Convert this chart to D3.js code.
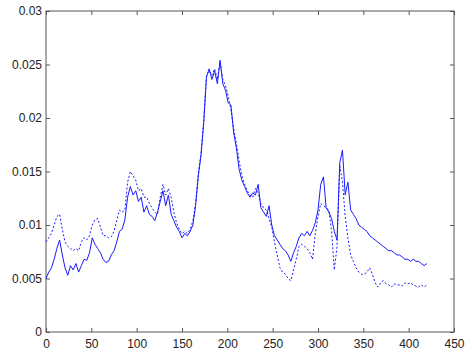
<!DOCTYPE html>
<html>
<head>
<meta charset="utf-8">
<script src="https://cdn.jsdelivr.net/npm/d3@7"></script>
<style>
  body { margin: 0; background: #fff; }
  svg { display: block; }
  .tick text { font-family: "Liberation Sans", Arial, sans-serif; font-size: 12px; fill: #222; }
</style>
</head>
<body>
<svg id="chart" width="474" height="356"></svg>
<script>
const xTicks = [0, 50, 100, 150, 200, 250, 300, 350, 400, 450];
const yTicks = [0, 0.005, 0.01, 0.015, 0.02, 0.025, 0.03];

// sample positions (every 3 units)
const xs = d3.range(0, 421, 3);

// solid line
const solid = [
  0.0050, 0.0056, 0.0060, 0.0068, 0.0078, 0.0086, 0.0072, 0.0060, 0.0053, 0.0062,
  0.0058, 0.0064, 0.0056, 0.0062, 0.0068, 0.0067, 0.0074, 0.0088, 0.0082, 0.0078,
  0.0074, 0.0068, 0.0065, 0.0066, 0.0072, 0.0076, 0.0084, 0.0094, 0.0096, 0.0105,
  0.0126, 0.0136, 0.0128, 0.0132, 0.0122, 0.0126, 0.0112, 0.0118, 0.0110, 0.0108,
  0.0104, 0.0112, 0.0122, 0.0132, 0.0118, 0.0128, 0.0110, 0.0104, 0.0098, 0.0094,
  0.0088, 0.0092, 0.0090, 0.0094, 0.0100, 0.0118, 0.0146, 0.0165, 0.0196, 0.0238,
  0.0246, 0.0236, 0.0244, 0.0232, 0.0254, 0.0232, 0.0226, 0.0214, 0.0212, 0.0186,
  0.0172, 0.0152, 0.0142, 0.0136, 0.0130, 0.0126, 0.0130, 0.0128, 0.0138, 0.0116,
  0.0112, 0.0108, 0.0118, 0.0100, 0.0090, 0.0086, 0.0082, 0.0078, 0.0076, 0.0072,
  0.0066, 0.0074, 0.0080, 0.0088, 0.0092, 0.0090, 0.0094, 0.0090, 0.0095, 0.0102,
  0.0114, 0.0138, 0.0145, 0.0116, 0.0112, 0.0106, 0.0094, 0.0086, 0.0158, 0.0170,
  0.0128, 0.0140, 0.0114, 0.0110, 0.0106, 0.0100, 0.0098, 0.0096, 0.0094, 0.0090,
  0.0088, 0.0086, 0.0084, 0.0082, 0.0080, 0.0078, 0.0076, 0.0076, 0.0074, 0.0072,
  0.0072, 0.0070, 0.0068, 0.0068, 0.0066, 0.0068, 0.0066, 0.0066, 0.0064, 0.0062,
  0.0064
];

// dotted line
const dashed = [
  0.0084, 0.0088, 0.0092, 0.0100, 0.0108, 0.0110, 0.0096, 0.0084, 0.0080, 0.0078,
  0.0076, 0.0078, 0.0076, 0.0084, 0.0088, 0.0086, 0.0090, 0.0100, 0.0105, 0.0106,
  0.0098, 0.0090, 0.0090, 0.0088, 0.0089, 0.0094, 0.0104, 0.0114, 0.0112, 0.0114,
  0.0140, 0.0150, 0.0146, 0.0142, 0.0132, 0.0134, 0.0126, 0.0126, 0.0120, 0.0116,
  0.0112, 0.0110, 0.0126, 0.0138, 0.0128, 0.0134, 0.0126, 0.0112, 0.0102, 0.0096,
  0.0092, 0.0094, 0.0092, 0.0096, 0.0104, 0.0120, 0.0148, 0.0168, 0.0198, 0.0240,
  0.0244, 0.0240, 0.0246, 0.0236, 0.0252, 0.0236, 0.0230, 0.0220, 0.0208, 0.0190,
  0.0176, 0.0160, 0.0146, 0.0138, 0.0132, 0.0128, 0.0126, 0.0134, 0.0130, 0.0120,
  0.0116, 0.0114, 0.0106, 0.0098, 0.0084, 0.0072, 0.0060, 0.0056, 0.0054, 0.0050,
  0.0048, 0.0058, 0.0068, 0.0080, 0.0082, 0.0080, 0.0078, 0.0074, 0.0068, 0.0092,
  0.0108, 0.0120, 0.0118, 0.0116, 0.0114, 0.0094, 0.0058, 0.0080, 0.0156, 0.0140,
  0.0108, 0.0088, 0.0072, 0.0066, 0.0060, 0.0056, 0.0054, 0.0054, 0.0056, 0.0060,
  0.0054, 0.0046, 0.0042, 0.0046, 0.0048, 0.0045, 0.0044, 0.0042, 0.0045, 0.0044,
  0.0044, 0.0043, 0.0046, 0.0045, 0.0046, 0.0044, 0.0043, 0.0042, 0.0044, 0.0042,
  0.0044
];

const margin = {top: 11, right: 20, bottom: 24, left: 46};

document.addEventListener('DOMContentLoaded', function() {
    drawChart("#chart", margin, 474, 356);
});

function drawChart(svgSelect, margin, widthSelect, heightSelect){
    const svg = d3.select(svgSelect);
    const width = widthSelect - margin.left - margin.right;
    const height = heightSelect - margin.top - margin.bottom;
    const g = svg.append("g").attr("transform", `translate(${margin.left},${margin.top})`);

    const x = d3.scaleLinear().domain([0, 450]).range([0, width]);
    const y = d3.scaleLinear().domain([0, 0.03]).range([height, 0]);
    const fmt = d3.format("~g");

    // box
    g.append("rect")
        .attr("width", width)
        .attr("height", height)
        .attr("fill", "none")
        .attr("stroke", "#555")
        .attr("stroke-width", 1);

    // inward ticks on all four sides
    const bottom = g.append("g")
        .attr("transform", `translate(0,${height})`)
        .call(d3.axisBottom(x).tickValues(xTicks).tickFormat(fmt).tickSizeInner(-4).tickSizeOuter(0).tickPadding(7));
    const left = g.append("g")
        .call(d3.axisLeft(y).tickValues(yTicks).tickFormat(fmt).tickSizeInner(-4).tickSizeOuter(0).tickPadding(4));
    const top = g.append("g")
        .call(d3.axisTop(x).tickValues(xTicks).tickFormat("").tickSizeInner(-4).tickSizeOuter(0));
    const right = g.append("g")
        .attr("transform", `translate(${width},0)`)
        .call(d3.axisRight(y).tickValues(yTicks).tickFormat("").tickSizeInner(-4).tickSizeOuter(0));

    [bottom, left, top, right].forEach(a => {
        a.select(".domain").remove();
        a.selectAll(".tick line").attr("stroke", "#555");
    });

    const line = d3.line()
        .x((d, i) => x(xs[i]))
        .y(d => y(d));

    g.append("path")
        .datum(dashed)
        .attr("fill", "none")
        .attr("stroke", "#1a1aff")
        .attr("stroke-width", 1)
        .attr("stroke-dasharray", "2,2")
        .attr("d", line);

    g.append("path")
        .datum(solid)
        .attr("fill", "none")
        .attr("stroke", "#1a1aff")
        .attr("stroke-width", 1)
        .attr("d", line);
}
</script>
</body>
</html>
